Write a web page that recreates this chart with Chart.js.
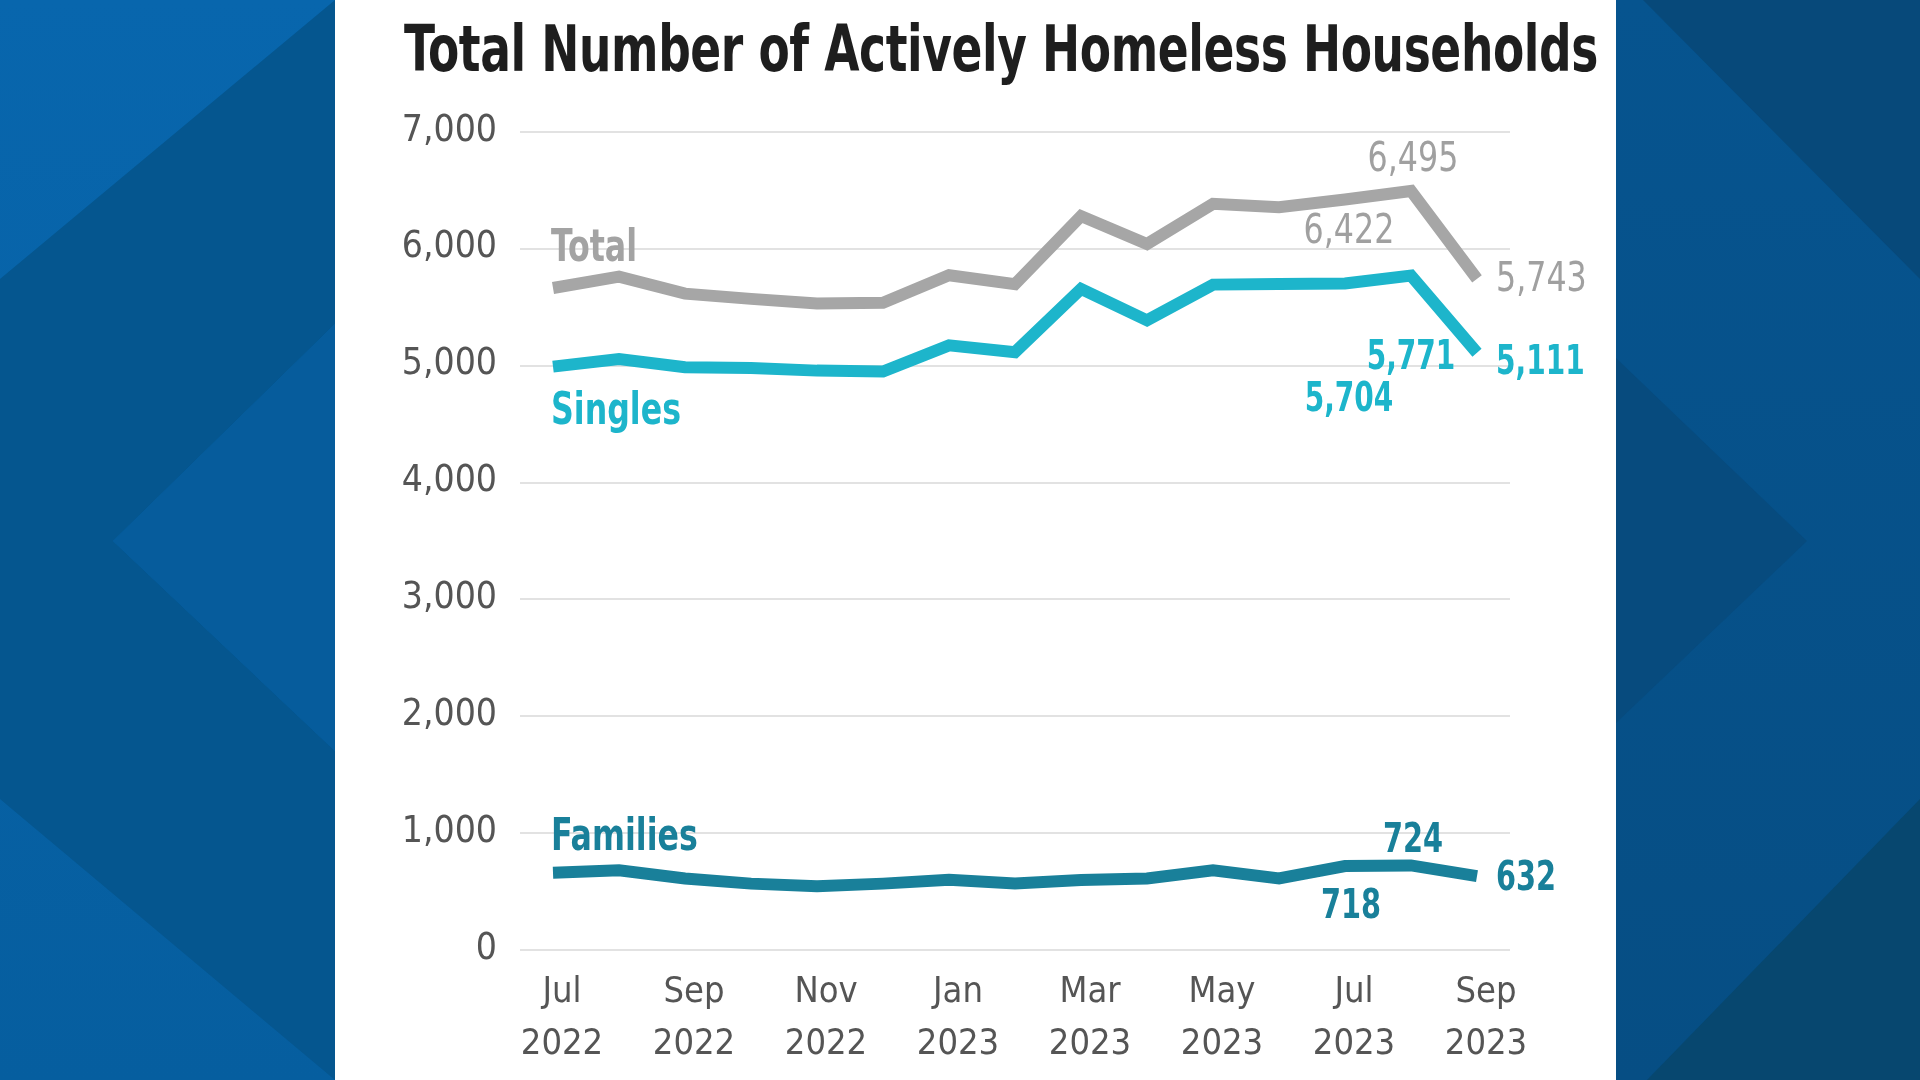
<!DOCTYPE html>
<html lang="en">
<head>
<meta charset="UTF-8">
<title>Total Number of Actively Homeless Households</title>
<style>
    html, body {
        margin: 0;
        padding: 0;
        width: 1920px;
        height: 1080px;
        overflow: hidden;
        background: #0660a3;
    }
    .bg {
        position: absolute;
        top: 0; left: 0;
        width: 1920px; height: 1080px;
    }
    .shape { position: absolute; top: 0; left: 0; width: 1920px; height: 1080px; }
    .panel {
        position: absolute;
        left: 335px; top: 0;
        width: 1281px; height: 1080px;
        background: #ffffff;
    }
    h1 {
        position: absolute;
        left: 404px; top: 17px;
        margin: 0;
        font-family: 'Liberation Sans Narrow', 'DejaVu Sans Condensed', 'Roboto', sans-serif;
        font-weight: 700;
        font-size: 64px;
        line-height: 1;
        color: #1e1e1e;
        white-space: nowrap;
        transform-origin: 0 0;
        letter-spacing: -0.5px;
    }
    .chart-box {
        position: absolute;
        left: 335px; top: 0;
        width: 1281px; height: 1080px;
    }
</style>
</head>
<body>
<div class="bg">
    <div class="shape" style="background: linear-gradient(180deg, #0866ad 0%, #065e9f 100%); clip-path: polygon(0 0, 335px 0, 335px 1080px, 0 1080px);"></div>
    <div class="shape" style="background: #05568f; clip-path: polygon(0 279px, 335px 0, 335px 324px, 113px 541px, 335px 751px, 335px 1080px, 0 799px);"></div>
    <div class="shape" style="background: #065c9c; clip-path: polygon(113px 541px, 335px 324px, 335px 751px);"></div>
    <div class="shape" style="background: linear-gradient(180deg, #06548f 0%, #064e84 100%); clip-path: polygon(1616px 0, 1920px 0, 1920px 1080px, 1616px 1080px);"></div>
    <div class="shape" style="background: #07497a; clip-path: polygon(1643px 0, 1920px 0, 1920px 279px);"></div>
    <div class="shape" style="background: #074b7e; clip-path: polygon(1616px 358px, 1807px 541px, 1616px 723px);"></div>
    <div class="shape" style="background: #07476f; clip-path: polygon(1920px 799px, 1920px 1080px, 1647px 1080px);"></div>
</div>
<div class="panel"></div>
<h1 id="title">Total Number of Actively Homeless Households</h1>
<div class="chart-box"><canvas id="homelessChart" width="1281" height="1080"></canvas></div>

<script src="https://cdn.jsdelivr.net/npm/chart.js"></script>
<script>
    // valores (jul 2022 - set 2023)
    const months = ['Jul', 'Aug', 'Sep', 'Oct', 'Nov', 'Dec', 'Jan', 'Feb', 'Mar', 'Apr', 'May', 'Jun', 'Jul', 'Aug', 'Sep'];
    const years = ['2022', '2022', '2022', '2022', '2022', '2022', '2023', '2023', '2023', '2023', '2023', '2023', '2023', '2023', '2023'];
    const total = [5665, 5762, 5617, 5572, 5532, 5538, 5774, 5697, 6281, 6042, 6385, 6357, 6422, 6495, 5743];
    const singles = [4992, 5058, 4987, 4981, 4958, 4950, 5174, 5116, 5657, 5388, 5694, 5700, 5704, 5771, 5111];
    const families = [662, 683, 612, 568, 546, 568, 602, 570, 598, 612, 683, 612, 718, 724, 632];
    const yTicks = [0, 1000, 2000, 3000, 4000, 5000, 6000, 7000];
    const labeledPoints = [12, 13, 14];

    const NARROW = "'Liberation Sans Narrow', 'DejaVu Sans Condensed', 'Roboto', sans-serif";
    const GRAY = '#a6a6a6';
    const CYAN = '#1db5cb';
    const TEAL = '#19809a';

    // título: ajusta a largura ao original
    const title = document.getElementById('title');
    const w = title.getBoundingClientRect().width;
    title.style.transform = 'scaleX(' + (1194 / w) + ')';

    const fmt = v => v.toLocaleString('en-US');

    // texto comprimido na horizontal (a fonte original é condensada)
    function squeezed(ctx, text, x, y, align, sx) {
        ctx.save();
        ctx.translate(x, y);
        ctx.scale(sx, 1);
        ctx.textAlign = align;
        ctx.fillText(text, 0, 0);
        ctx.restore();
    }

    // rótulos das séries e dos valores finais
    const textPlugin = {
        id: 'textLabels',
        afterDatasetsDraw(chart) {
            const ctx = chart.ctx;
            const x = chart.scales.x;
            const y = chart.scales.y;
            const left = chart.chartArea.left;
            ctx.save();
            ctx.textBaseline = 'middle';

            // nomes das séries
            const names = [
                { text: 'Total', value: 5990, color: '#a3a3a3' },
                { text: 'Singles', value: 4600, color: CYAN },
                { text: 'Families', value: 955, color: TEAL }
            ];
            ctx.font = 'bold 44px ' + NARROW;
            names.forEach(n => {
                ctx.fillStyle = n.color;
                squeezed(ctx, n.text, left + 31, y.getPixelForValue(n.value), 'left', 0.8);
            });

            // valores (deslocamentos em px a partir do ponto)
            const offsets = {
                total: [[4, 33, 'center'], [2, -31, 'center'], [19, 1, 'left']],
                singles: [[4, 117, 'center'], [0, 83, 'center'], [19, 11, 'left']],
                families: [[6, 41, 'center'], [2, -24, 'center'], [19, 3, 'left']]
            };
            const series = [
                { key: 'total', data: total, color: '#a0a0a0', weight: 'normal', sx: 0.86 },
                { key: 'singles', data: singles, color: CYAN, weight: 'bold', sx: 0.76 },
                { key: 'families', data: families, color: TEAL, weight: 'bold', sx: 0.78 }
            ];
            series.forEach(s => {
                ctx.fillStyle = s.color;
                ctx.font = s.weight + ' 41px ' + NARROW;
                labeledPoints.forEach((idx, k) => {
                    const o = offsets[s.key][k];
                    squeezed(ctx, fmt(s.data[idx]), x.getPixelForValue(idx) + o[0], y.getPixelForValue(s.data[idx]) + o[1], o[2], s.sx);
                });
            });
            ctx.restore();
        }
    };

    const ctx = document.getElementById('homelessChart').getContext('2d');
    new Chart(ctx, {
        type: 'line',
        data: {
            labels: months.map((m, i) => m + ' ' + years[i]),
            datasets: [
                { label: 'Total', data: total, borderColor: GRAY },
                { label: 'Singles', data: singles, borderColor: CYAN },
                { label: 'Families', data: families, borderColor: TEAL }
            ].map(d => Object.assign(d, {
                borderWidth: 12,
                pointRadius: 0,
                tension: 0,
                fill: false,
                borderJoinStyle: 'miter',
                borderCapStyle: 'butt'
            }))
        },
        options: {
            responsive: false,
            animation: false,
            layout: { padding: { top: 132, right: 106, bottom: 0, left: 0 } },
            plugins: {
                legend: { display: false },
                tooltip: { enabled: false }
            },
            scales: {
                x: {
                    offset: true,
                    grid: { display: false, drawTicks: false },
                    border: { display: false },
                    afterFit: scale => { scale.height = 130; },
                    ticks: {
                        autoSkip: false,
                        maxRotation: 0,
                        padding: 17,
                        labelOffset: 9,
                        color: '#555555',
                        font: { family: NARROW, size: 36, lineHeight: 1.44 },
                        callback: (val, i) => i % 2 === 0 ? [months[i], years[i]] : ''
                    }
                },
                y: {
                    min: 0,
                    max: 7000,
                    afterFit: scale => { scale.width = 185; },
                    afterBuildTicks: scale => { scale.ticks = yTicks.map(v => ({ value: v })); },
                    grid: { color: '#e2e2e2', lineWidth: 2, drawTicks: false },
                    border: { display: false },
                    ticks: {
                        padding: 23,
                        labelOffset: -1,
                        color: '#555555',
                        font: { family: NARROW, size: 37 },
                        callback: v => fmt(v)
                    }
                }
            }
        },
        plugins: [textPlugin]
    });
</script>
</body>
</html>
